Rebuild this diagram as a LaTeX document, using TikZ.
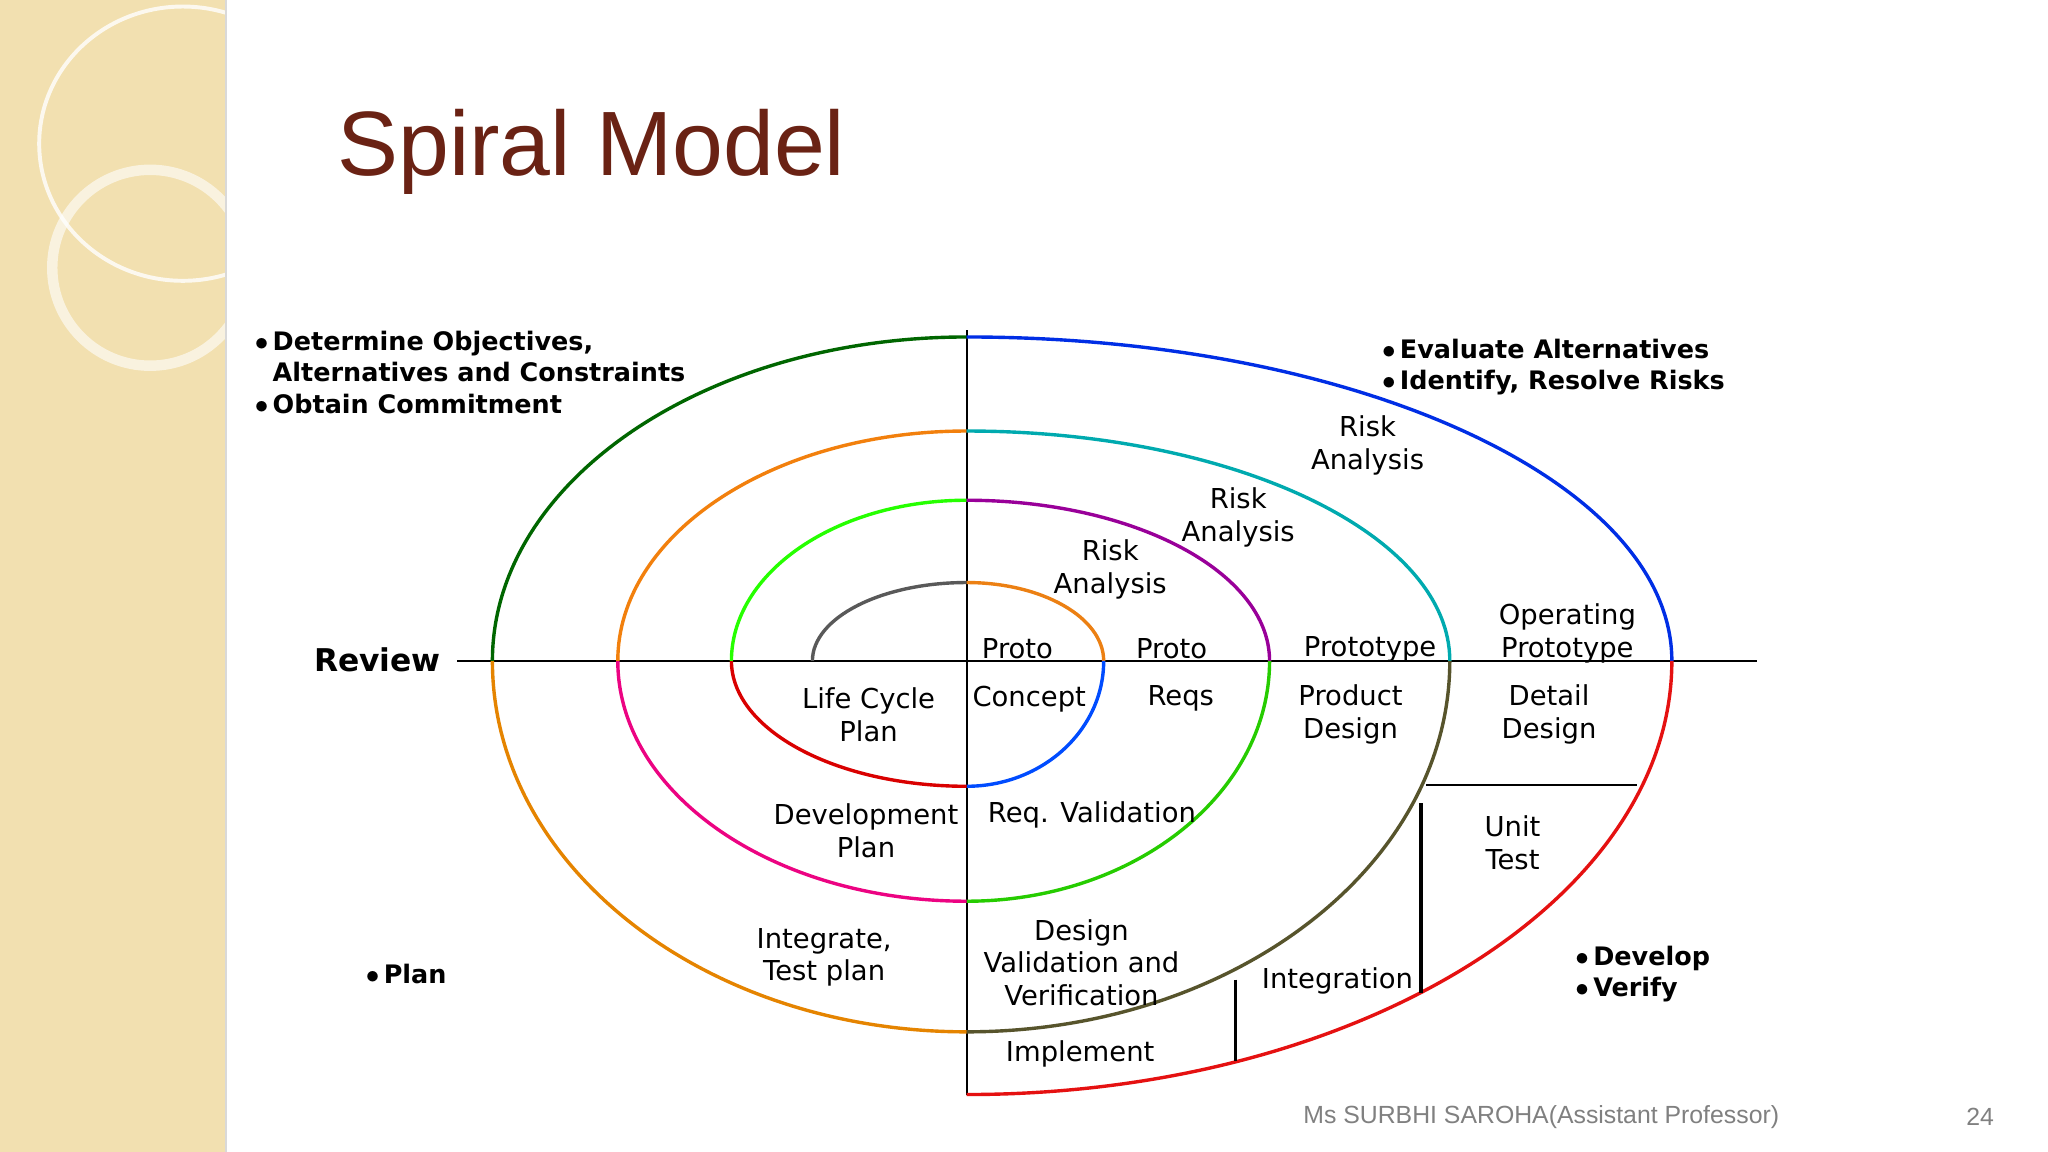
\documentclass[tikz,border=0pt]{standalone}
\usepackage{fontspec}
\setmainfont{DejaVu Sans}
\newfontfamily\titlefont{Liberation Sans}
\begin{document}
\begin{tikzpicture}[x=1pt,y=-1pt,
  arc/.style={line width=2.6pt},
  lbl/.style={font=\fontsize{21}{25}\selectfont,align=center,inner sep=0pt},
  blbl/.style={font=\bfseries\fontsize{19.5}{24}\selectfont,align=left,inner sep=0pt,anchor=west},
  ax/.style={line width=1.5pt,black}]
\useasboundingbox (0,0) rectangle (1568,882);
\fill[white] (0,0) rectangle (1568,882);
\definecolor{beige}{HTML}{F2E0B0}
\definecolor{titlec}{HTML}{6A2214}
\fill[beige] (0,0) rectangle (173,882);
\draw[white,line width=3pt,opacity=.8] (140,110) ellipse[x radius=110,y radius=105];
\draw[white,line width=8pt,opacity=.6] (115,205) ellipse[x radius=75,y radius=75];
\draw[black!15,line width=1pt] (173,0) -- (173,882);
\node[font=\titlefont\fontsize{70}{74}\selectfont,text=titlec,anchor=base west,inner sep=0pt] (title) at (258,134) {Spiral Model};
% axes
\coordinate (hl) at (350,506); \coordinate (hr) at (1345,506);
\coordinate (vt) at (740,253); \coordinate (vb) at (740,838);
\draw[ax] (hl) -- (hr);
\draw[ax] (vt) -- (vb);
% spiral
\draw[arc,gray!70!black] (622,506) arc[start angle=180,end angle=270,x radius=118,y radius=60];
\draw[arc,orange!70!brown] (740,446) arc[start angle=270,end angle=360,x radius=105,y radius=60];
\draw[arc,blue!70!cyan] (845,506) arc[start angle=0,end angle=90,x radius=105,y radius=96];
\draw[arc,red!85!black] (740,602) arc[start angle=90,end angle=180,x radius=180,y radius=96];
\draw[arc,green!80!lime] (560,506) arc[start angle=180,end angle=270,x radius=180,y radius=123];
\draw[arc,violet!80!magenta] (740,383) arc[start angle=270,end angle=360,x radius=232,y radius=123];
\draw[arc,green!75!black!80!lime] (972,506) arc[start angle=0,end angle=90,x radius=232,y radius=184];
\draw[arc,magenta!90!red] (740,690) arc[start angle=90,end angle=180,x radius=267,y radius=184];
\draw[arc,orange!80!brown] (473,506) arc[start angle=180,end angle=270,x radius=267,y radius=176];
\draw[arc,cyan!60!green] (740,330) arc[start angle=270,end angle=360,x radius=370,y radius=176];
\draw[arc,olive!50!black] (1110,506) arc[start angle=0,end angle=90,x radius=370,y radius=284];
\draw[arc,orange!85!yellow!90!black] (740,790) arc[start angle=90,end angle=180,x radius=363,y radius=284];
\draw[arc,green!40!black] (377,506) arc[start angle=180,end angle=270,x radius=363,y radius=248];
\draw[arc,blue!80!cyan!90!black] (740,258) arc[start angle=270,end angle=360,x radius=540,y radius=248];
\draw[arc,red!90!pink!90!black] (1280,506) arc[start angle=0,end angle=90,x radius=540,y radius=332];
% extra lines
\coordinate (i1) at (946,750); \coordinate (i2) at (946,812);
\coordinate (u1) at (1088,615); \coordinate (u2) at (1088,760);
\coordinate (d1) at (1092,601); \coordinate (d2) at (1253,601);
\draw[line width=2.2pt] (i1) -- (i2);
\draw[line width=2.8pt] (u1) -- (u2);
\draw[line width=2.2pt] (d1) -- (d2);
% labels
\node[blbl] (q1) at (195,285) {$\bullet$\,Determine Objectives,\\\phantom{$\bullet$}\,Alternatives and Constraints\\$\bullet$\,Obtain Commitment};
\node[blbl] (q2) at (1058,281) {$\bullet$\,Evaluate Alternatives\\$\bullet$\,Identify, Resolve Risks};
\node[blbl] (q3) at (280,746) {$\bullet$\,Plan};
\node[blbl] (q4) at (1206,746) {$\bullet$\,Develop\\$\bullet$\,Verify};
\node[font=\bfseries\fontsize{24}{28}\selectfont,inner sep=0pt] (rev) at (289,505) {Review};
\node[lbl] (r1) at (1047,341) {Risk\\Analysis};
\node[lbl] (r2) at (948,396) {Risk\\Analysis};
\node[lbl] (r3) at (850,436) {Risk\\Analysis};
\node[lbl] (p1) at (779,497) {Proto};
\node[lbl] (p2) at (897,497) {Proto};
\node[lbl] (p3) at (1049,497) {Prototype};
\node[lbl] (p4) at (1200,485) {Operating\\Prototype};
\node[lbl] (lc) at (665,547) {Life Cycle\\Plan};
\node[lbl] (cc) at (788,535) {Concept};
\node[lbl] (rq) at (904,535) {Reqs};
\node[lbl] (pd) at (1034,547) {Product\\Design};
\node[lbl] (dd) at (1186,547) {Detail\\Design};
\node[lbl] (dp) at (663,636) {Development\\Plan};
\node[lbl] (rv) at (836,624) {Req. Validation};
\node[lbl] (ut) at (1158,645) {Unit\\Test};
\node[lbl] (it) at (631,733) {Integrate,\\Test plan};
\node[lbl] (dv) at (828,737) {Design\\Validation and\\Verification};
\node[lbl] (ig) at (1024,751) {Integration};
\node[lbl] (im) at (827,807) {Implement};
\node[font=\titlefont\fontsize{19}{22}\selectfont,text=gray,inner sep=0pt] (ft) at (1180,855) {Ms SURBHI SAROHA(Assistant Professor)};
\node[font=\titlefont\fontsize{19}{22}\selectfont,text=gray,inner sep=0pt] (pg) at (1516,855) {24};
\end{tikzpicture}
\end{document}
